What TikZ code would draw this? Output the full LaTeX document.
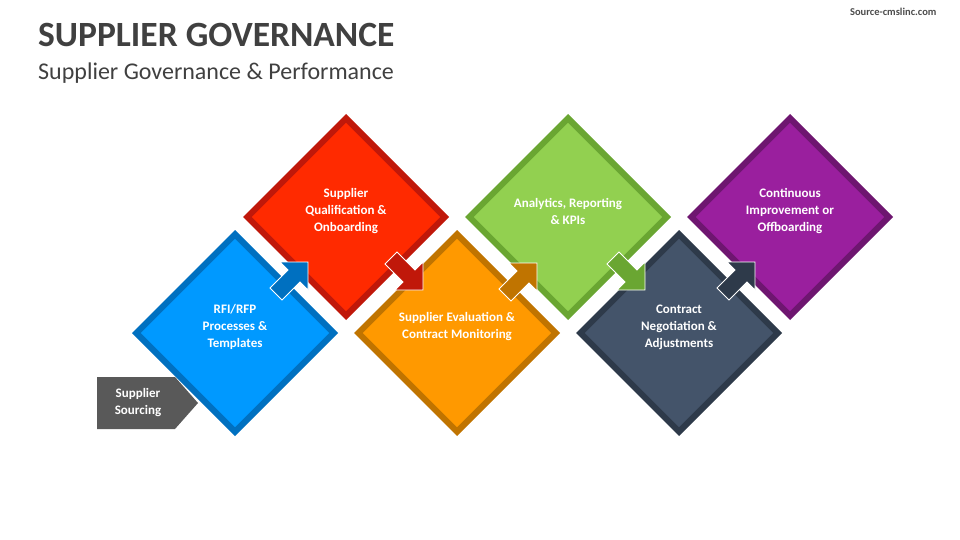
\documentclass[tikz,border=0pt]{standalone}
\usepackage{fontspec}
\setmainfont{Carlito}
\begin{document}
\begin{tikzpicture}[x=1pt,y=-1pt,
  lbl/.style={text=white,font=\bfseries\fontsize{13}{17}\selectfont,align=center},
  title/.style={anchor=west,text=black!75,inner sep=0}]
\useasboundingbox (0,0) rectangle (960,540);
\definecolor{bB}{HTML}{0070C0}\definecolor{bF}{HTML}{0099FF}
\definecolor{rB}{HTML}{C0180A}\definecolor{rF}{HTML}{FF2A00}
\definecolor{oB}{HTML}{C07400}\definecolor{oF}{HTML}{FF9900}
\definecolor{gB}{HTML}{6AA632}\definecolor{gF}{HTML}{92D050}
\definecolor{sB}{HTML}{2E3A4A}\definecolor{sF}{HTML}{44546A}
\definecolor{pB}{HTML}{6E1670}\definecolor{pF}{HTML}{9A1F9E}
\newcommand\mydia[5]{%
  \fill[#3] (#1,#2-103) -- (#1+103,#2) -- (#1,#2+103) -- (#1-103,#2) -- cycle;
  \filldraw[fill=#4,draw=#3,line width=1pt] (#1,#2-95) -- (#1+95,#2) -- (#1,#2+95) -- (#1-95,#2) -- cycle;
  \node[lbl] at (#1,#2-6) {#5};}
\newcommand\myarr[5]{%
  \filldraw[fill=#5,draw=white,line width=0.8pt]
   (#1,#2) -- ({#1},{#2-28*#4})
   -- ({#1-14*#3+6*#3},{#2-14*#4-6*#4})
   -- ({#1-32*#3+6*#3},{#2-32*#4-6*#4})
   -- ({#1-32*#3-6*#3},{#2-32*#4+6*#4})
   -- ({#1-14*#3-6*#3},{#2-14*#4+6*#4}) -- ({#1-28*#3},{#2}) -- cycle;}
\node[title,font=\bfseries\fontsize{35.5}{38}\selectfont] (t) at (38,35) {SUPPLIER GOVERNANCE};
\node[title,font=\fontsize{24}{26}\selectfont] (s) at (38,73) {Supplier Governance \& Performance};
\node[anchor=east,font=\bfseries\fontsize{10.5}{12}\selectfont,text=black!70] (src) at (940,12) {Source-cmslinc.com};
\fill[black!65] (97,377) -- (175,377) -- (198,403) -- (175,429) -- (97,429) -- cycle;
\node[lbl] (ss) at (138,403) {Supplier\\Sourcing};
\mydia{235}{333}{bB}{bF}{RFI/RFP\\Processes \&\\Templates}
\mydia{346}{217}{rB}{rF}{Supplier\\Qualification \&\\Onboarding}
\mydia{457}{333}{oB}{oF}{Supplier Evaluation \&\\Contract Monitoring}
\mydia{568}{217}{gB}{gF}{Analytics, Reporting\\\& KPIs}
\mydia{679}{333}{sB}{sF}{Contract\\Negotiation \&\\Adjustments}
\mydia{790}{217}{pB}{pF}{Continuous\\Improvement or\\Offboarding}
\myarr{308}{262}{1}{-1}{bB}
\myarr{423}{290}{1}{1}{rB}
\myarr{537}{263}{1}{-1}{oB}
\myarr{645}{290}{1}{1}{gB}
\myarr{755}{262}{1}{-1}{sB}
\end{tikzpicture}
\end{document}
